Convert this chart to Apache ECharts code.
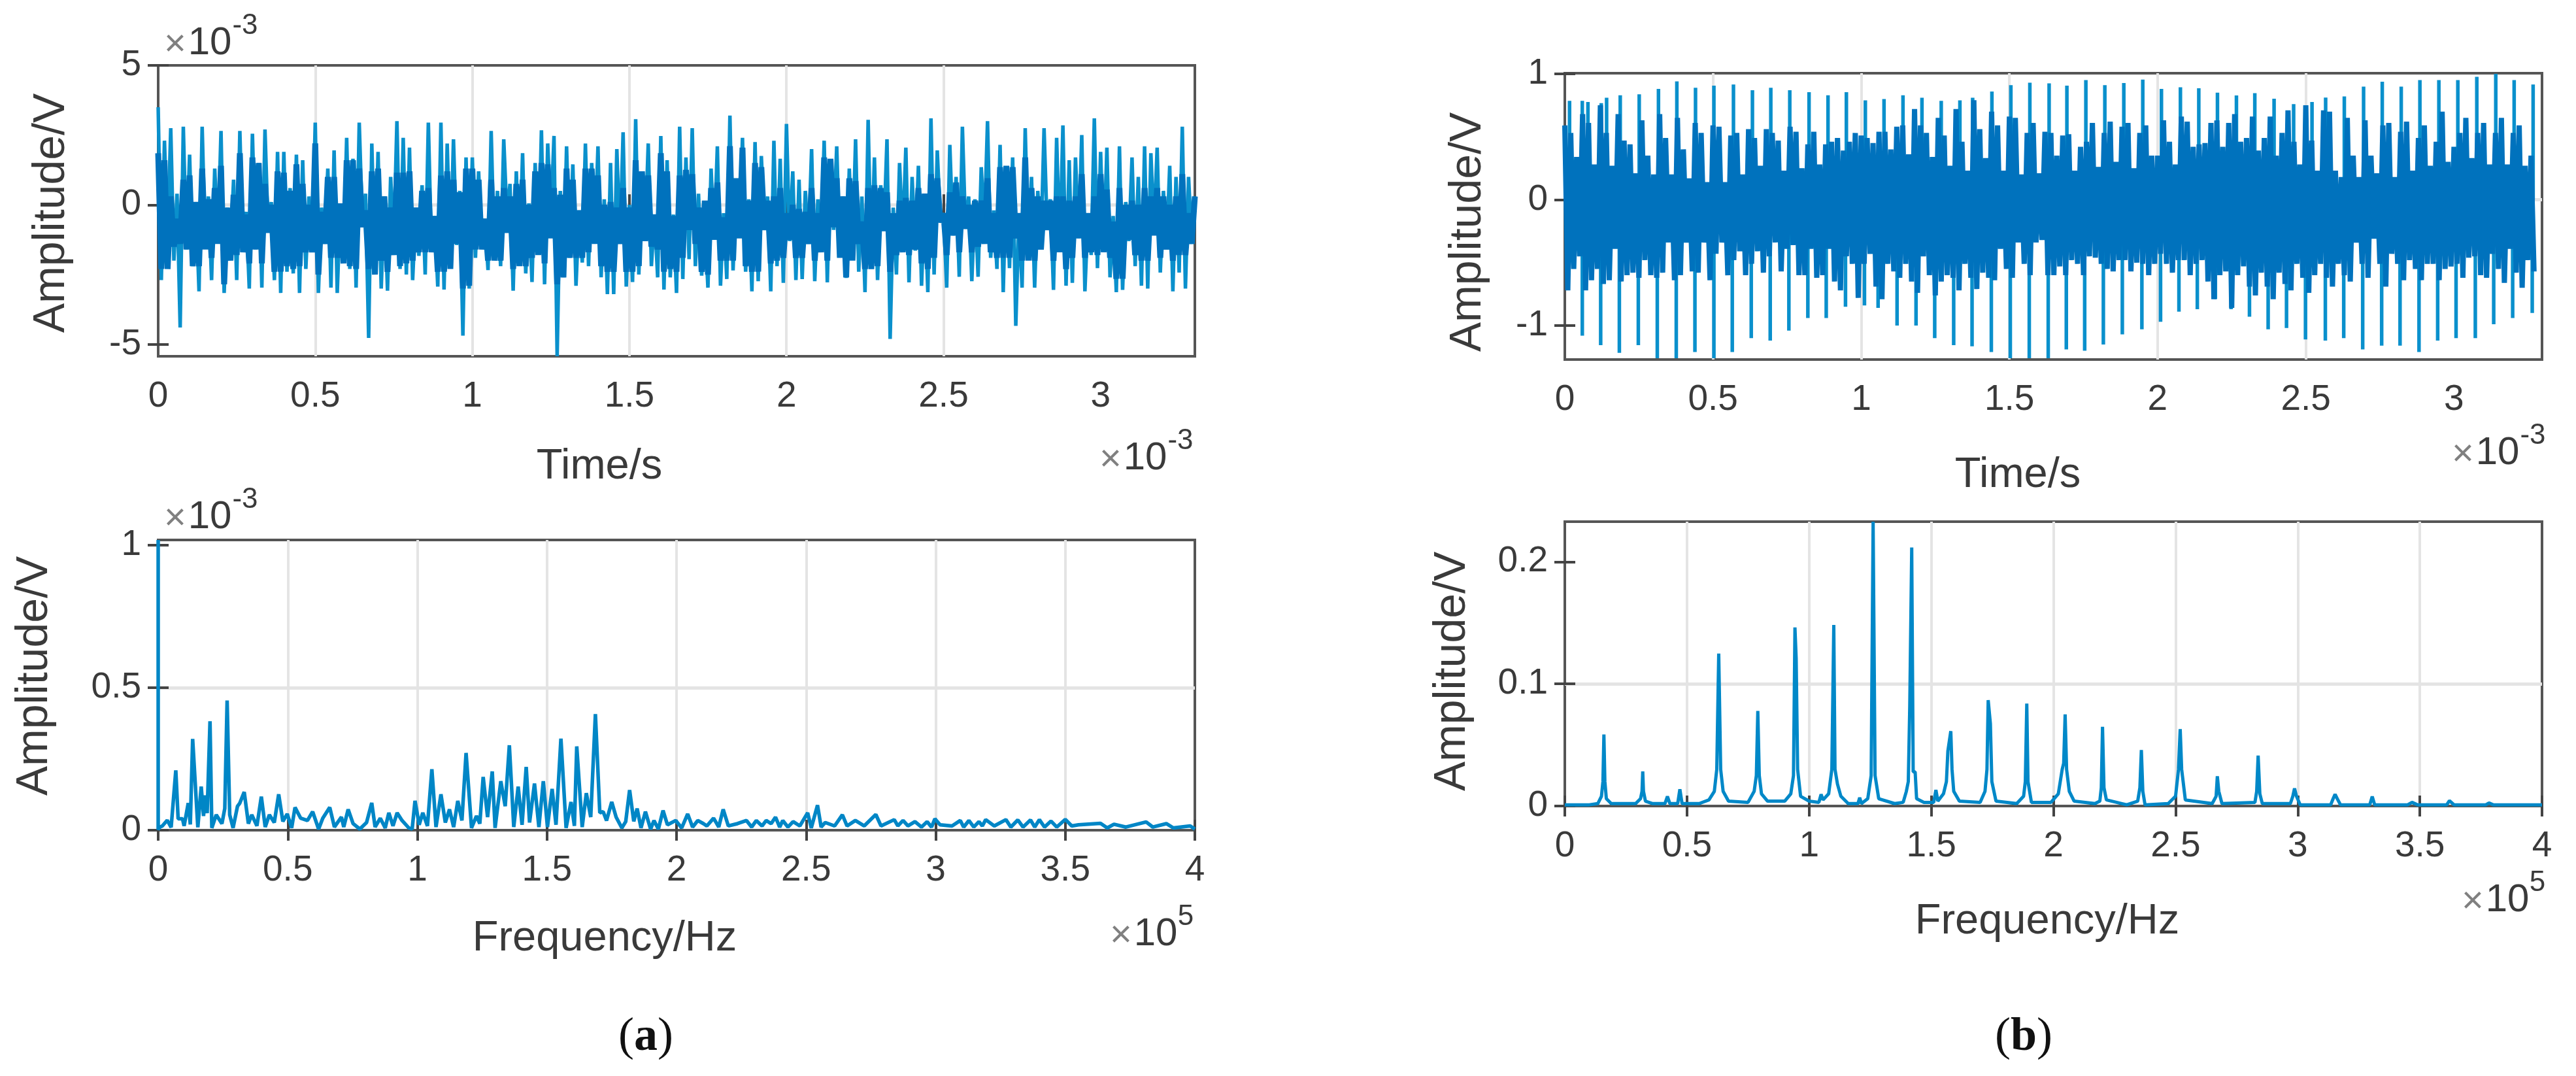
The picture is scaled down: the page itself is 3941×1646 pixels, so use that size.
<!DOCTYPE html>
<html>
<head>
<meta charset="utf-8">
<title>Time and frequency plots</title>
<script src="https://cdn.jsdelivr.net/npm/echarts@6/dist/echarts.min.js"></script>
<style>
html, body { margin: 0; padding: 0; background: #fff; }
#chart { width: 3941px; height: 1646px; }
</style>
</head>
<body>
<div id="chart"></div>
<script>
// tick labels
var timeTicks = [0, 0.5, 1, 1.5, 2, 2.5, 3];
var freqTicks = [0, 0.5, 1, 1.5, 2, 2.5, 3, 3.5, 4];
var aTopYTicks = [-5, 0, 5];
var aBottomYTicks = [0, 0.5, 1];
var bTopYTicks = [-1, 0, 1];
var bBottomYTicks = [0, 0.1, 0.2];

// (a) time signal, x1e-3 V, crests every 0.02 ms and troughs between them
var aTopHi = [3.5,2.3,2.75,.4,2.8,1.8,.1,2.8,.3,1.3,2.65,-.1,.9,2.65,-.25,2.55,1.5,2.7,.1,1.9,
1.9,.6,1.8,1.6,.3,2.95,-.1,1.3,1.95,.05,2.4,1.65,2.95,.4,2.2,1.9,.3,1,3,2.4,
2.05,-.2,.7,2.95,-.4,2.95,2.2,2.35,.5,1.7,1.7,1.2,-.5,2.65,.5,2.35,.75,1.2,1.85,.05,
1.5,2.67,2.2,2.47,.5,2.1,1.45,-.2,2.2,1.5,2.1,.2,1.5,2,2.6,0,3.07,.9,2.2,-.35,
2.47,1.6,-.35,2.8,1.7,2.75,.4,-.7,1.3,2.1,-.3,3.2,.7,2.4,.2,2.25,1.75,.3,2.3,1.65,
2.9,1.2,.9,.5,2,.2,2.3,1.6,2.1,.3,1.3,2.35,.3,3.05,1.7,.7,2.35,-.1,1.5,2.05,
1,1.4,.2,3.1,1.95,-.3,2.15,1,2.8,.3,.2,1.35,3,-.2,2.15,1.2,1.7,-.4,2.75,1,
.5,2.75,.2,2.4,2.85,1.6,1.7,2.5,-.3,3.1,1.9,2.05,-.4,2.1,.1,1.7,1,2.1,1.85,2.05,
.5,1.4,1,2.8,1,.3];
var aTopLo = [-2.7,-1.3,-2,-4.4,-1.6,-2.2,-3.1,-1.5,-2.7,-1.3,-3.16,-1.67,-2.7,-1.67,-3,-1.6,-2.97,-.9,-2.7,-3.16,
-2.4,-2.46,-3.16,-2.3,-1.67,-3.16,-1.3,-2.97,-3.16,-1.9,-2.3,-2.97,-.66,-4.77,-2.07,-3,-3.08,-1.3,-2.3,-2.5,
-2.7,-1.83,-2.5,-1.67,-2.93,-3.04,-1.9,-1.44,-4.69,-3,-1.9,-1.44,-2.34,-1.75,-2.2,-.35,-3.08,-1.9,-2.46,-2.77,
-1.75,-2.85,-.5,-5.43,-2.6,-1.9,-2.9,-2.07,-2.2,-1.3,-2.6,-3.2,-3.2,-1.3,-2.93,-2.77,-2.5,-1.13,-2.2,-2.6,
-3.04,-2.6,-3.16,-2.66,-1.95,-2.2,-2.54,-2.97,-1.25,-2.9,-2.66,-2.35,-1.17,-2.4,-3.1,-2.74,-.8,-3.1,-2.2,-2.8,
-1.3,-2.7,-2.66,-1.4,-2.74,-1.7,-2.78,-.9,-1.8,-2.62,-1.8,-2.4,-3.13,-2.27,-2.7,-.94,-4.81,-2.5,-1.2,-2.78,
-1.64,-2.9,-3.13,-2.5,-.63,-2.97,-1.1,-2.58,-.86,-2.74,-2.58,-.8,-1.9,-2.3,-3.13,-2.27,-4.34,-2.97,-1.9,-2.97,
-1.5,-.9,-3.05,-1.7,-2.9,-2.8,-1.2,-3.1,-1.8,-2.27,-1.7,-2.6,-3.13,-3.05,-1.3,-2.2,-2.9,-3,-.9,-2.43,
-1.6,-3.1,-2.43,-3,-1.4];
// edges of the dense dark body of the same trace
var aTopCoreHi = [1.85,1.6,.3,-.5,.9,1.05,.1,1.3,.2,.6,1.4,-.1,.36,1.85,-.35,1.7,1.5,.75,0,1.2,
1.15,.5,1.45,.75,0,2.2,-.25,1,1,.05,1.6,1.6,1.3,-.2,1.2,1.3,.3,-.1,1.15,1.15,
1.2,-.1,.5,.6,-.4,1.05,1.2,.9,.45,1.3,1.3,.9,-.5,.9,.3,.6,.3,.75,.9,0,
1.2,1.5,1.45,.6,.36,1.3,.9,-.2,1.3,1.3,1.05,0,.1,-.1,.6,-.1,1.6,1.2,1.05,-.35,
1.85,1.2,-.4,1.05,1.25,1.1,-.1,.15,.6,.8,-.45,2.1,.95,2.05,.15,1.5,1.35,.15,.3,.6,
-.3,0,-.15,-.25,.6,-.3,1.7,1.65,.95,.3,.95,.85,-.6,.6,.7,.6,.45,-.3,.15,.25,
.15,.6,.4,1.1,.95,-.3,.45,.8,.3,0,.15,.15,.95,-.3,1.35,1.4,1.35,-.3,1.7,.6,
.3,.15,.15,.3,.3,.15,.3,1.1,-.3,.3,1.1,.55,-.6,.6,0,.15,0,.6,.3,.6,
.3,0,.3,1.1,-.3,.3];
var aTopCoreLo = [-2.3,-2.3,-1.5,-1.4,-1.6,-2.2,-2.2,-1.6,-1.9,-1.4,-2.85,-2,-1.8,-1.7,-2.1,-1.6,-2.1,-1,-2.4,-2.4,
-2.2,-2.3,-2.2,-1.7,-1.7,-2.5,-1.4,-1.9,-1.9,-2.1,-2.2,-2.3,-.8,-2.3,-2.5,-2,-2.4,-1.8,-2.2,-2.1,
-2,-1.7,-1.7,-1.7,-2.4,-2.4,-2.3,-1.4,-3,-2.9,-1.6,-1.6,-2,-2,-2,-1,-2.3,-2.2,-2.2,-1.9,
-1.8,-2.1,-1.2,-2.85,-2.6,-1.9,-1.9,-1.9,-1.7,-1.4,-2.2,-2.4,-2.4,-1.4,-2.4,-2.4,-2.2,-1.3,-1.5,-1.6,
-2.4,-2.3,-2.4,-1.9,-.9,-1.4,-2.4,-2.5,-1.25,-2,-2,-2,-1.2,-2.2,-2.4,-2.4,-.9,-2.1,-2,-1.9,
-1.25,-1.9,-1.9,-1.4,-2,-1.7,-2,-.8,-1.9,-2.6,-2,-1.4,-2.3,-2.3,-2.2,-.94,-2.4,-1.8,-1.7,-1.8,
-1.6,-2.1,-2.3,-1.9,-.63,-1.8,-1.1,-1.7,-.86,-1.7,-1.5,-1.4,-1.7,-1.9,-1.9,-1.9,-1.2,-2,-2,-2,
-1.6,-.9,-2,-1.7,-2.3,-1.9,-1.2,-1.9,-1.7,-1.8,-1.7,-1.9,-2.65,-2.65,-1.25,-1.8,-2,-2,-1.1,-1.9,
-1.6,-2,-1.8,-1.8,-1.4];

// (a) spectrum, x1e5 Hz and x1e-3 V
var aBottomF = [0,0,.005,.016,.035,.05,.068,.077,.094,.1,.116,.124,.133,.153,.166,.175,.181,.189,.2,.207,.224,.246,.257,.266,.276,.289,.306,.315,.332,.348,
.361,.381,.398,.413,.429,.448,.465,.481,.498,.515,.528,.55,.576,.596,.619,.635,.662,.68,.707,.716,.733,.752,.778,.804,.824,.837,.857,.876,.89,.906,
.922,.941,.967,.98,.991,1.007,1.021,1.039,1.056,1.072,1.091,1.108,1.124,1.14,1.156,1.172,1.188,1.209,1.228,1.241,1.254,1.271,1.289,1.3,1.322,1.339,1.355,1.372,1.389,1.404,
1.42,1.433,1.452,1.469,1.486,1.502,1.52,1.535,1.554,1.574,1.593,1.606,1.615,1.636,1.652,1.669,1.687,1.704,1.717,1.73,1.75,1.767,1.789,1.804,1.819,1.835,1.848,1.863,1.88,1.9,
1.913,1.93,1.948,1.965,1.997,2.02,2.043,2.062,2.082,2.104,2.117,2.143,2.163,2.18,2.2,2.235,2.27,2.29,2.308,2.33,2.346,2.365,2.382,2.398,2.41,2.43,2.45,2.476,2.506,2.52,
2.544,2.558,2.574,2.61,2.64,2.658,2.69,2.724,2.769,2.789,2.84,2.854,2.874,2.893,2.92,2.945,2.967,2.984,2.997,3.017,3.063,3.095,3.108,3.128,3.147,3.167,3.18,3.193,3.226,3.271,
3.29,3.317,3.337,3.366,3.382,3.4,3.42,3.445,3.467,3.5,3.525,3.551,3.636,3.662,3.688,3.734,3.812,3.838,3.89,3.917,3.982,4];
var aBottomV = [1.018,.002,.01,.015,.035,.01,.21,.04,.04,.015,.095,.02,.32,.01,.153,.05,.122,.06,.382,.008,.054,.023,.076,.455,.054,.008,.084,.095,.134,.023,
.054,.015,.118,.011,.054,.027,.126,.031,.057,.008,.08,.042,.034,.065,.004,.042,.08,.011,.046,.011,.073,.023,.004,.027,.096,.011,.042,.008,.061,.015,
.061,.034,.008,.004,.103,.019,.061,.015,.214,.011,.126,.027,.073,.011,.103,.034,.271,.008,.05,.023,.187,.046,.206,.008,.172,.084,.298,.011,.153,.019,
.222,.027,.164,.011,.172,.011,.145,.019,.321,.008,.099,.015,.294,.011,.13,.046,.407,.061,.065,.034,.099,.046,.008,.03,.141,.031,.076,.008,.065,.004,
.034,.004,.069,.019,.034,.008,.057,.011,.034,.023,.015,.042,.011,.073,.015,.023,.034,.011,.034,.015,.034,.023,.046,.011,.034,.011,.03,.015,.061,.008,
.088,.011,.027,.015,.054,.015,.034,.015,.055,.015,.037,.015,.034,.015,.03,.011,.03,.011,.04,.019,.015,.034,.011,.034,.011,.03,.015,.037,.015,.037,
.011,.036,.011,.036,.011,.037,.011,.032,.011,.038,.015,.019,.024,.008,.021,.011,.029,.011,.023,.008,.015,.004];

// (b) time signal: solid band edges and the impulse tips, V
var bTopHi = [.59,.53,.34,.68,.61,.28,.75,.53,.27,.68,.47,.44,.21,.63,.35,.2,.68,.49,.2,.65,
.4,.17,.61,.53,.14,.59,.58,.14,.51,.53,.2,.56,.49,.27,.56,.53,.47,.23,.58,.54,
.25,.44,.54,.28,.44,.46,.49,.39,.46,.53,.51,.49,.45,.54,.54,.4,.58,.59,.36,.72,
.59,.53,.34,.65,.51,.27,.72,.46,.23,.79,.56,.33,.7,.59,.23,.66,.65,.2,.53,.61,
.21,.54,.53,.35,.51,.52,.23,.42,.46,.61,.26,.53,.62,.3,.58,.61,.25,.53,.59,.35,
.35,.63,.46,.28,.66,.62,.42,.44,.45,.61,.63,.42,.61,.68,.46,.49,.66,.39,.49,.66,
.35,.53,.71,.46,.28,.75,.47,.23,.71,.7,.23,.18,.65,.35,.18,.63,.35,.21,.59,.61,
.18,.54,.62,.23,.49,.59,.27,.46,.7,.3,.42,.53,.65,.33,.53,.61,.28,.53,.65,.28,
.53,.59,.27,.35];
var bTopLo = [-.72,-.55,-.45,-.72,-.64,-.55,-.67,-.64,-.39,-.65,-.6,-.58,-.62,-.48,-.6,-.62,-.58,-.34,-.64,-.6,
-.34,-.57,-.58,-.34,-.64,-.43,-.34,-.6,-.48,-.41,-.6,-.51,-.41,-.58,-.45,-.34,-.57,-.39,-.36,-.6,
-.6,-.39,-.62,-.6,-.39,-.65,-.72,-.45,-.51,-.78,-.51,-.43,-.69,-.79,-.51,-.57,-.62,-.51,-.65,-.74,
-.45,-.6,-.76,-.65,-.6,-.62,-.72,-.51,-.62,-.71,-.58,-.62,-.64,-.39,-.55,-.62,-.34,-.51,-.6,-.34,
-.32,-.6,-.6,-.53,-.6,-.48,-.51,-.6,-.45,-.46,-.51,-.55,-.57,-.48,-.48,-.57,-.5,-.51,-.6,-.51,
-.43,-.51,-.58,-.48,-.48,-.6,-.51,-.48,-.65,-.79,-.6,-.57,-.86,-.6,-.53,-.69,-.76,-.58,-.69,-.79,
-.58,-.67,-.72,-.51,-.62,-.74,-.6,-.51,-.62,-.69,-.51,-.6,-.65,-.34,-.51,-.62,-.31,-.51,-.69,-.43,
-.51,-.64,-.48,-.55,-.64,-.51,-.51,-.64,-.55,-.53,-.51,-.62,-.46,-.45,-.6,-.62,-.43,-.55,-.66,-.39,
-.58,-.7,-.48,-.57];
var bTopUpT = [.016,.059,.078,.123,.141,.187,.251,.316,.378,.441,.503,.569,.633,.695,.759,.824,.888,.95,1.014,1.077,1.141,1.205,1.27,1.333,1.376,1.441,1.505,1.569,1.634,
1.694,1.758,1.822,1.886,1.95,2.013,2.077,2.139,2.202,2.266,2.328,2.393,2.459,2.521,2.567,2.63,2.695,2.758,2.822,2.885,2.949,3.013,3.077,3.141,3.203,3.267];
var bTopUpV = [.785,.785,.776,.768,.81,.83,.837,.88,.94,.89,.906,.915,.87,.89,.87,.855,.83,.855,.79,.8,.83,.81,.785,.79,.81,.86,.91,.93,.924,
.906,.95,.91,.927,.955,.88,.893,.886,.851,.828,.846,.802,.759,.776,.811,.82,.898,.938,.898,.95,.95,.95,.976,1,.95,.915];
var bTopDownT = [.059,.121,.184,.248,.312,.376,.439,.503,.565,.629,.693,.756,.82,.882,.947,1.011,1.057,1.121,1.185,1.248,1.312,1.374,1.439,1.503,1.567,1.631,
1.692,1.754,1.817,1.881,1.947,2.01,2.072,2.134,2.195,2.248,2.31,2.373,2.435,2.499,2.566,2.628,2.692,2.756,2.818,2.882,2.945,3.007,3.072,3.134,3.198,3.264];
var bTopDownV = [-1.08,-1.156,-1.217,-1.156,-1.26,-1.26,-1.21,-1.26,-1.21,-1.1,-1.12,-1.04,-.94,-.94,-.85,-.84,-.86,-1,-1,-1.1,-1.156,-1.165,-1.21,-1.26,-1.26,-1.26,
-1.19,-1.2,-1.15,-1.07,-1.03,-.97,-.89,-.87,-.79,-.87,-.93,-1.03,-1.02,-1.11,-1.12,-1.1,-1.19,-1.16,-1.16,-1.21,-1.12,-1.1,-1.1,-.99,-.94,-.9];

// (b) spectrum, x1e5 Hz and V
var bBottomF = [0,.1,.135,.15,.156,.16,.164,.17,.19,.29,.31,.316,.319,.322,.33,.36,.41,.42,.43,.462,.471,.48,.55,.59,.612,.622,.63,.638,.648,.67,
.75,.775,.784,.79,.796,.805,.83,.9,.925,.936,.942,.947,.953,.965,1,1.04,1.049,1.057,1.08,1.093,1.101,1.106,1.116,1.13,1.16,1.2,1.207,1.214,1.24,1.254,
1.262,1.27,1.285,1.35,1.385,1.398,1.406,1.412,1.42,1.426,1.434,1.44,1.47,1.51,1.519,1.527,1.55,1.562,1.568,1.58,1.585,1.592,1.615,1.7,1.72,1.728,1.733,1.742,1.748,1.765,
1.85,1.878,1.885,1.891,1.896,1.9,1.91,1.99,2.02,2.036,2.042,2.048,2.054,2.065,2.085,2.17,2.19,2.196,2.201,2.207,2.217,2.3,2.345,2.354,2.36,2.366,2.375,2.47,2.5,2.512,
2.519,2.525,2.54,2.65,2.666,2.671,2.677,2.69,2.825,2.832,2.838,2.845,2.855,2.97,2.98,2.987,2.995,3.01,3.135,3.145,3.153,3.162,3.175,3.295,3.305,3.315,3.45,3.468,3.49,3.61,
3.621,3.64,3.77,3.783,3.8,4];
var bBottomV = [.001,.001,.002,.008,.02,.0586,.02,.006,.002,.002,.006,.012,.0283,.012,.004,.002,.002,.0078,.002,.002,.0137,.002,.002,.005,.012,.03,.1248,.03,.012,.004,
.003,.012,.025,.0778,.025,.01,.004,.004,.01,.025,.1462,.121,.03,.008,.004,.003,.0096,.005,.01,.03,.1482,.03,.018,.008,.002,.002,.0069,.002,.006,.025,
.2328,.025,.006,.002,.003,.012,.02,.082,.2117,.028,.028,.006,.003,.003,.0132,.004,.01,.02,.045,.0613,.03,.012,.004,.003,.012,.03,.0867,.0675,.02,.004,
.002,.008,.02,.0839,.02,.015,.003,.003,.01,.03,.035,.075,.03,.012,.004,.002,.004,.015,.0648,.015,.005,.001,.004,.015,.0458,.012,.001,.002,.008,.03,
.063,.03,.005,.002,.008,.0244,.012,.002,.003,.012,.0413,.01,.002,.002,.008,.0144,.008,.001,.001,.006,.0096,.006,.001,.001,.0078,.001,.001,.003,.001,.001,
.0043,.001,.001,.0025,.001,.001];

var LIGHT_BLUE = '#0a90cc';
var DARK_BLUE = '#0072bd';
var TEXT_COLOR = '#3a3a3a';
var FONT = '"Liberation Sans", Arial, sans-serif';

// one sample of each crest followed by the next trough
function zigzag(hi, lo, step) {
    var out = [];
    for (var i = 0; i < hi.length; i++) {
        out.push([i * step, hi[i]]);
        if (i < lo.length) {
            out.push([i * step + step / 2, lo[i]]);
        }
    }
    return out;
}

function pairs(xs, ys) {
    return xs.map(function (x, i) {
        return [x, ys[i]];
    });
}

// impulses rising out of the zero line
function impulses(xs, ys) {
    var out = [];
    for (var i = 0; i < xs.length; i++) {
        out.push([xs[i], 0], [xs[i], ys[i]], [xs[i], 0]);
    }
    return out;
}

var grids = [
    {left: 242, top: 100, width: 1586, height: 445},
    {left: 242, top: 826, width: 1586, height: 444},
    {left: 2394, top: 112, width: 1495, height: 438},
    {left: 2394, top: 798, width: 1495, height: 435}
];
var xRanges = [[0, 3.3, timeTicks], [0, 4, freqTicks], [0, 3.297, timeTicks], [0, 4, freqTicks]];
var yRanges = [[-5.43, 5, aTopYTicks], [0, 1.018, aBottomYTicks], [-1.27, 1.005, bTopYTicks], [0, 0.2328, bBottomYTicks]];

// inner tick marks, same for all four sides of a box
function tickStyle(values) {
    return {show: true, length: -16, customValues: values, lineStyle: {color: '#444', width: 4}};
}

var xAxes = [];
var yAxes = [];
grids.forEach(function (g, i) {
    g.show = true;
    g.borderColor = '#555';
    g.borderWidth = 4;
    g.backgroundColor = '#fff';
    xAxes.push({
        type: 'value', gridIndex: i, position: 'bottom',
        min: xRanges[i][0], max: xRanges[i][1],
        axisLine: {show: false},
        axisTick: tickStyle(xRanges[i][2]),
        splitLine: {show: true, showMinLine: false, showMaxLine: false, lineStyle: {color: '#e4e4e4', width: 4}},
        axisLabel: {margin: 34, customValues: xRanges[i][2], color: TEXT_COLOR, fontSize: 55, fontFamily: FONT, showMinLabel: true, showMaxLabel: true}
    });
    xAxes.push({
        type: 'value', gridIndex: i, position: 'top',
        min: xRanges[i][0], max: xRanges[i][1],
        axisLine: {show: false},
        axisTick: tickStyle(xRanges[i][2]),
        splitLine: {show: false},
        axisLabel: {show: false}
    });
    yAxes.push({
        type: 'value', gridIndex: i, position: 'left',
        min: yRanges[i][0], max: yRanges[i][1],
        axisLine: {show: false},
        axisTick: tickStyle(yRanges[i][2]),
        splitLine: {show: true, showMinLine: false, showMaxLine: false, lineStyle: {color: '#e4e4e4', width: 5}},
        axisLabel: {margin: 26, padding: [10, 0, 0, 0], customValues: yRanges[i][2], color: TEXT_COLOR, fontSize: 55, fontFamily: FONT, showMinLabel: true, showMaxLabel: true}
    });
    yAxes.push({
        type: 'value', gridIndex: i, position: 'right',
        min: yRanges[i][0], max: yRanges[i][1],
        axisLine: {show: false},
        axisTick: tickStyle(yRanges[i][2]),
        splitLine: {show: false},
        axisLabel: {show: false}
    });
});

function lineSeries(i, data, color, width) {
    return {
        type: 'line',
        xAxisIndex: i * 2,
        yAxisIndex: i * 2,
        data: data,
        symbol: 'none',
        silent: true,
        animation: false,
        lineStyle: {color: color, width: width}
    };
}

var series = [
    lineSeries(0, zigzag(aTopHi, aTopLo, 0.02), LIGHT_BLUE, 5.5),
    lineSeries(0, zigzag(aTopCoreHi, aTopCoreLo, 0.02), DARK_BLUE, 9),
    lineSeries(1, pairs(aBottomF, aBottomV), '#0086c6', 5.5),
    lineSeries(2, impulses(bTopUpT, bTopUpV), LIGHT_BLUE, 5.5),
    lineSeries(2, impulses(bTopDownT, bTopDownV), LIGHT_BLUE, 5.5),
    lineSeries(2, zigzag(bTopHi, bTopLo, 0.02), DARK_BLUE, 8),
    lineSeries(3, pairs(bBottomF, bBottomV), '#0088c8', 5)
];

function label(text, x, y, size, rotation, extra) {
    var style = {text: text, fill: TEXT_COLOR, font: size + 'px ' + FONT, textAlign: 'center', textVerticalAlign: 'middle'};
    for (var k in extra || {}) {
        style[k] = extra[k];
    }
    return {type: 'text', x: x, y: y, rotation: rotation || 0, silent: true, z: 20, style: style};
}

// "x10^n" scale mark, x = left edge, y = digit baseline
function scaleMark(x, y, power) {
    return [
        label('\u00d7', x + 20, y - 18, 58, 0, {fill: '#808080'}),
        label('10', x + 73, y - 21, 60),
        label(power, x + 107 + (power.length > 1 ? 20 : 12), y - 47, 44)
    ];
}

var texts = [
    label('Amplitude/V', 79, 326, 68, Math.PI / 2),
    label('Amplitude/V', 53, 1034, 68, Math.PI / 2),
    label('Amplitude/V', 2246, 355, 68, Math.PI / 2),
    label('Amplitude/V', 2222, 1027, 68, Math.PI / 2),
    label('Time/s', 917, 714, 65),
    label('Time/s', 3087, 727, 65),
    label('Frequency/Hz', 925, 1436, 65),
    label('Frequency/Hz', 3132, 1410, 65),
    {type: 'text', x: 988, y: 1587, silent: true, z: 20, style: {
        text: '({b|a})', fill: '#111', font: '72px "Liberation Serif", serif', textAlign: 'center', textVerticalAlign: 'middle',
        rich: {b: {fontWeight: 'bold', fontSize: 72, fontFamily: '"Liberation Serif", serif', fill: '#111'}}
    }},
    {type: 'text', x: 3096, y: 1587, silent: true, z: 20, style: {
        text: '({b|b})', fill: '#111', font: '72px "Liberation Serif", serif', textAlign: 'center', textVerticalAlign: 'middle',
        rich: {b: {fontWeight: 'bold', fontSize: 72, fontFamily: '"Liberation Serif", serif', fill: '#111'}}
    }}
].concat(
    scaleMark(248, 87, '-3'),
    scaleMark(1679, 722, '-3'),
    scaleMark(248, 812, '-3'),
    scaleMark(1695, 1450, '5'),
    scaleMark(3748, 714, '-3'),
    scaleMark(3763, 1398, '5')
);

var chart = echarts.init(document.getElementById('chart'));
chart.setOption({
    backgroundColor: '#fff',
    animation: false,
    grid: grids,
    xAxis: xAxes,
    yAxis: yAxes,
    series: series,
    graphic: {elements: texts}
});
</script>
</body>
</html>
